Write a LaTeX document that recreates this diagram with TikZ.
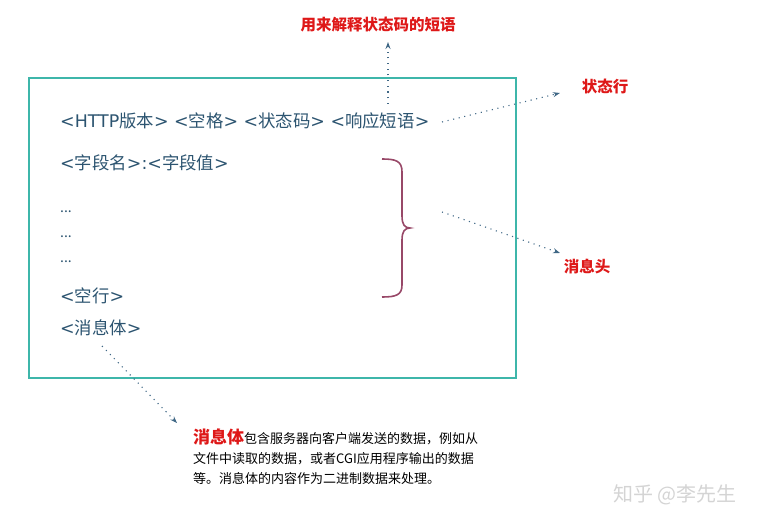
\documentclass[tikz,border=0pt]{standalone}
\usepackage{fontspec}
\setmainfont{Noto Sans CJK SC}
\newfontfamily\latinpart{DejaVu Sans}
\usetikzlibrary{arrows.meta}

\definecolor{boxteal}{RGB}{62,182,170}
\definecolor{msgblue}{RGB}{44,84,112}
\definecolor{notered}{RGB}{222,24,24}
\definecolor{ptrblue}{RGB}{64,104,134}
\definecolor{bracecol}{RGB}{152,72,104}

% brackets and latin letters in a wider face
\newcommand{\lp}[1]{{\latinpart #1}}

\tikzset{
  msgline/.style={anchor=base west,inner sep=0pt,text=msgblue,font=\fontsize{17.4}{19}\selectfont},
  note/.style={anchor=center,inner sep=0pt,text=notered,font=\bfseries\fontsize{15.5}{18}\selectfont},
  pointer/.style={draw=ptrblue,line width=1.1pt,dash pattern=on 1.1pt off 4.6pt,
    -{Stealth[length=7pt,width=5pt,fill=ptrblue]}}
}

\begin{document}
\begin{tikzpicture}[x=1pt,y=-1pt]
      \useasboundingbox (0,0) rectangle (765,529);

      % message frame
      \draw [boxteal, line width=2pt] (29,78) rectangle (516,378);

      \node [msgline] (status) at (60,128) {\lp{<HTTP}版本\lp{> <}空格\lp{> <}状态码\lp{> <}响应短语\lp{>}};
      \node [msgline] (field) at (60,170) {\lp{<}字段名\lp{>:<}字段值\lp{>}};
      \node [msgline,font=\fontsize{14}{16}\selectfont] (dots1) at (60,213) {...};
      \node [msgline,font=\fontsize{14}{16}\selectfont] (dots2) at (60,238) {...};
      \node [msgline,font=\fontsize{14}{16}\selectfont] (dots3) at (60,262) {...};
      \node [msgline] (blank) at (60,302) {\lp{<}空行\lp{>}};
      \node [msgline] (body) at (60,334) {\lp{<}消息体\lp{>}};

      % header brace
      \draw [bracecol, line width=1.6pt] (382,159) .. controls (396,159) and (402,161) .. (402,172)
        -- (402,216) .. controls (402,225) and (405,228) .. (410,228)
        .. controls (405,228) and (402,231) .. (402,240)
        -- (402,285) .. controls (402,295) and (396,297) .. (382,297);

      \node [note] (phrase) at (378,25) {用来解释状态码的短语};
      \node [note] (statusnote) at (605,87) {状态行};
      \node [note] (headnote) at (587,267) {消息头};

      \coordinate (p1) at (388,104);
      \coordinate (p2) at (442,122);
      \coordinate (p3) at (442,212);
      \coordinate (p4) at (102,346);

      \draw [pointer] (p1) -- (p1 |- 0,42);
      \draw [pointer] (p2) -- (560,93);
      \draw [pointer] (p3) -- (560,253);
      \draw [pointer] (p4) -- (177,423);

      \node [anchor=base west,inner sep=0pt,align=left,font=\fontsize{13}{20}\selectfont] (bodynote) at (193,483)
        {{\color{notered}\bfseries\fontsize{17}{20}\selectfont 消息体}包含服务器向客户端发送的数据，例如从\\
         文件中读取的数据，或者CGI应用程序输出的数据\\
         等。消息体的内容作为二进制数据来处理。};

      \node [anchor=center,inner sep=0pt,text=black!17,font=\fontsize{20}{22}\selectfont] (mark) at (675,495) {知乎 @李先生};
\end{tikzpicture}
\end{document}
